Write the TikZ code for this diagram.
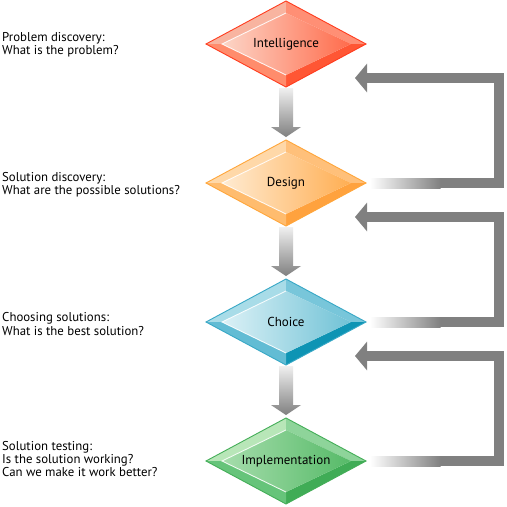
\documentclass[tikz,border=0pt]{standalone}
\usepackage{fontspec}
\setmainfont{PT Sans}
\usetikzlibrary{shapes.geometric,calc,arrows.meta}
% red
\definecolor{rTL}{HTML}{F8B4A0}\definecolor{rTR}{HTML}{FF8F75}\definecolor{rBR}{HTML}{FF5634}
\definecolor{rBL}{HTML}{FF8C6C}\definecolor{rL}{HTML}{FCD6C8}\definecolor{rR}{HTML}{FF6B4B}\definecolor{rO}{HTML}{FF3C1E}
% orange
\definecolor{oTL}{HTML}{FFD8A8}\definecolor{oTR}{HTML}{FFC07A}\definecolor{oBR}{HTML}{FFA23E}
\definecolor{oBL}{HTML}{FFBC6E}\definecolor{oL}{HTML}{FFEBD2}\definecolor{oR}{HTML}{FFAE52}\definecolor{oO}{HTML}{FFA63A}
% blue
\definecolor{bTL}{HTML}{A8DCE8}\definecolor{bTR}{HTML}{78C6DA}\definecolor{bBR}{HTML}{0E94B4}
\definecolor{bBL}{HTML}{62BCD4}\definecolor{bL}{HTML}{DCF1F6}\definecolor{bR}{HTML}{70C2D6}\definecolor{bO}{HTML}{38A8C6}
% green
\definecolor{gTL}{HTML}{B8E6B8}\definecolor{gTR}{HTML}{8ED49A}\definecolor{gBR}{HTML}{40AC56}
\definecolor{gBL}{HTML}{66C47A}\definecolor{gL}{HTML}{A6DDAC}\definecolor{gR}{HTML}{56BA68}\definecolor{gO}{HTML}{44AE58}
\definecolor{fbgray}{HTML}{808080}
\tikzset{
  dia/.style={shape=diamond, minimum width=160pt, minimum height=86pt, inner sep=0pt, outer sep=0pt, draw=none},
  lbl/.style={font={\fontsize{13}{14}\selectfont}, text=black, inner sep=0pt},
  side/.style={anchor=west, align=left, font={\fontsize{12.8}{13.3}\selectfont}, text=black, inner sep=0pt},
  fb/.style={draw=fbgray, line width=10pt, line join=miter, -{Triangle[width=28pt,length=12pt]}},
}
\newcommand\beveldia[4]{%
  \node[dia] (#1) at #2 {};
  \coordinate (#1-iW) at ($(#1.center)+(-64,0)$);
  \coordinate (#1-iE) at ($(#1.center)+(65,0)$);
  \coordinate (#1-iN) at ($(#1.center)+(0,-31)$);
  \coordinate (#1-iS) at ($(#1.center)+(0,31)$);
  \fill[#4TL] (#1.west) -- (#1.north) -- (#1-iN) -- (#1-iW) -- cycle;
  \fill[#4TR] (#1.north) -- (#1.east) -- (#1-iE) -- (#1-iN) -- cycle;
  \fill[#4BR] (#1.east) -- (#1.south) -- (#1-iS) -- (#1-iE) -- cycle;
  \fill[#4BL] (#1.south) -- (#1.west) -- (#1-iW) -- (#1-iS) -- cycle;
  \shade[left color=#4L, right color=#4R] (#1-iW) -- (#1-iN) -- (#1-iE) -- (#1-iS) -- cycle;
  \draw[white, line width=0.9pt, opacity=0.85] (#1-iS) -- (#1-iW) -- (#1-iN);
  \draw[#4O, line width=0.9pt, line join=miter] (#1.west) -- (#1.north) -- (#1.east) -- (#1.south) -- cycle;
  \node[lbl] (#1-t) at (#1.center) {#3};
}
\newcommand\vdarrow[2]{%
  \shade[top color=gray!12, middle color=gray!70, bottom color=fbgray]
    ($(#1.south)+(-7,1)$) -- ($(#1.south)+(7,1)$) -- ($(#2.north)+(7,-13)$) -- ($(#2.north)+(15,-13)$)
    -- ($(#2.north)+(0,-3)$) -- ($(#2.north)+(-15,-13)$) -- ($(#2.north)+(-7,-13)$) -- cycle;
}
\newcommand\fbarrow[2]{%
  \coordinate (#1-fbS) at ($(#1.east)+(4,0)$);
  \coordinate (#1-fbG) at ($(#1.east)+(74,0)$);
  \coordinate (#1-fbC1) at ($(#1.east)+(133,0)$);
  \coordinate (#1-fbC2) at ($(#1.east)+(133,-105)$);
  \coordinate (#1-fbT) at ($(#1.east)+(-11,-105)$);
  \draw[fb] (#1-fbG) -- (#1-fbC1) -- (#1-fbC2) -- (#1-fbT);
  \shade[left color=white, right color=fbgray] ($(#1-fbS)+(0,-5)$) rectangle ($(#1-fbG)+(0.5,5)$);
}
\begin{document}
\begin{tikzpicture}[x=1pt,y=-1pt]
\useasboundingbox[fill=white] (0,0) rectangle (507,507);
\node[dia] (I0) at (286,44) {};
\node[dia] (D0) at (286,183) {};
\node[dia] (C0) at (286,322) {};
\node[dia] (M0) at (286,461) {};
\fbarrow{D0}{I0}
\fbarrow{C0}{D0}
\fbarrow{M0}{C0}
\vdarrow{I0}{D0}
\vdarrow{D0}{C0}
\vdarrow{C0}{M0}
\beveldia{I}{(286,44)}{Intelligence}{r}
\beveldia{D}{(286,183)}{Design}{o}
\beveldia{C}{(286,322)}{Choice}{b}
\beveldia{M}{(286,461)}{Implementation}{g}
\node[side] (t1) at (2,45) {Problem discovery:\\What is the problem?};
\node[side] (t2) at (2,185) {Solution discovery:\\What are the possible solutions?};
\node[side] (t3) at (2,324) {Choosing solutions:\\What is the best solution?};
\node[side] (t4) at (2,459) {Solution testing:\\Is the solution working?\\Can we make it work better?};
\end{tikzpicture}
\end{document}
